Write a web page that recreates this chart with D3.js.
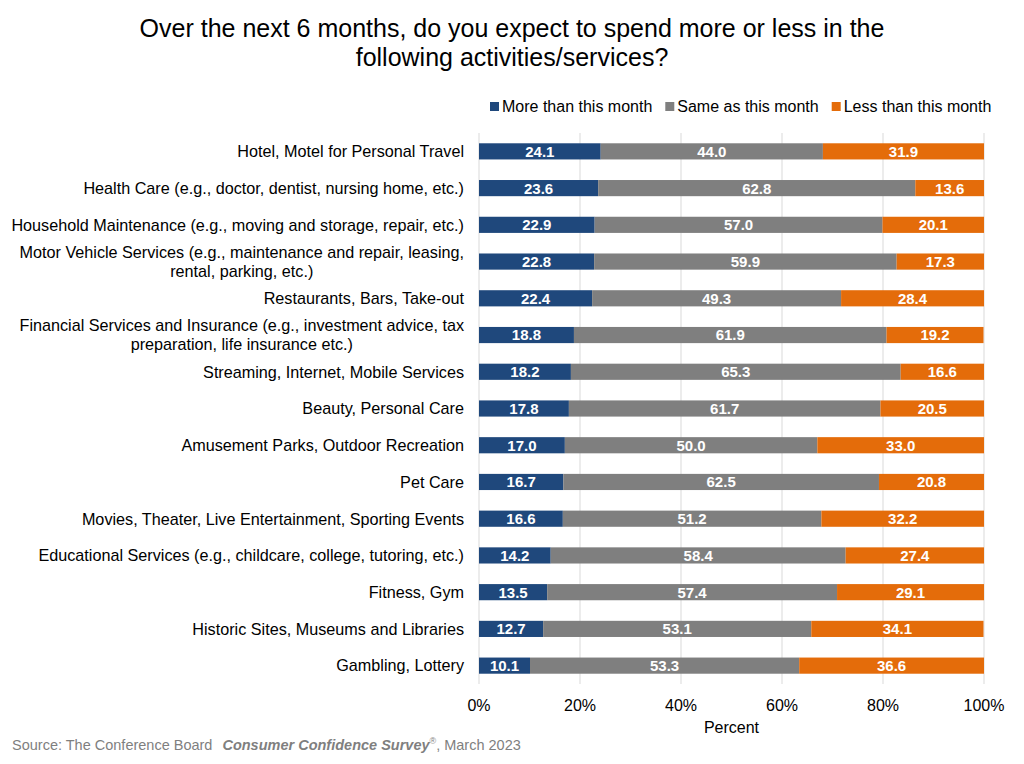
<!DOCTYPE html>
<html lang="en">
<head>
<meta charset="UTF-8">
<title>Spending expectations</title>
<script src="https://cdnjs.cloudflare.com/ajax/libs/d3/7.8.5/d3.min.js"></script>
<style>
    body { margin: 0; background: #fff; }
    svg { display: block; font-family: "Liberation Sans", Arial, sans-serif; }
</style>
</head>
<body>
<svg id="chart" width="1024" height="764"></svg>
<script>
    const categories = [
        "Hotel, Motel for Personal Travel",
        "Health Care (e.g., doctor, dentist, nursing home, etc.)",
        "Household Maintenance (e.g., moving and storage, repair, etc.)",
        "Motor Vehicle Services (e.g., maintenance and repair, leasing,\nrental, parking, etc.)",
        "Restaurants, Bars, Take-out",
        "Financial Services and Insurance (e.g., investment advice, tax\npreparation, life insurance etc.)",
        "Streaming, Internet, Mobile Services",
        "Beauty, Personal Care",
        "Amusement Parks, Outdoor Recreation",
        "Pet Care",
        "Movies, Theater, Live Entertainment, Sporting Events",
        "Educational Services (e.g., childcare, college, tutoring, etc.)",
        "Fitness, Gym",
        "Historic Sites, Museums and Libraries",
        "Gambling, Lottery"
    ];
    const more = [24.1, 23.6, 22.9, 22.8, 22.4, 18.8, 18.2, 17.8, 17.0, 16.7, 16.6, 14.2, 13.5, 12.7, 10.1];
    const same = [44.0, 62.8, 57.0, 59.9, 49.3, 61.9, 65.3, 61.7, 50.0, 62.5, 51.2, 58.4, 57.4, 53.1, 53.3];
    const less = [31.9, 13.6, 20.1, 17.3, 28.4, 19.2, 16.6, 20.5, 33.0, 20.8, 32.2, 27.4, 29.1, 34.1, 36.6];
    const seriesNames = ["More than this month", "Same as this month", "Less than this month"];
    const seriesColors = ["#1f487c", "#7f7f7f", "#e46c0a"];
    const xTicks = [0, 20, 40, 60, 80, 100];

    const svg = d3.select("#chart");
    const plotLeft = 479, plotRight = 984, plotTop = 133, plotBottom = 684;

    const x = d3.scaleLinear().domain([0, 100]).range([plotLeft, plotRight]);
    const y = d3.scaleBand().domain(categories).range([plotTop, plotBottom])
        .paddingInner(0.56).paddingOuter(0.28);

    // title
    const title = svg.append("text")
        .attr("text-anchor", "middle")
        .attr("font-size", 25)
        .attr("fill", "#000");
    title.append("tspan").attr("x", 512).attr("y", 37)
        .text("Over the next 6 months, do you expect to spend more or less in the");
    title.append("tspan").attr("x", 512).attr("y", 66)
        .text("following activities/services?");

    // gridlines
    svg.append("g").selectAll("line")
        .data(xTicks)
        .enter().append("line")
        .attr("x1", d => x(d)).attr("x2", d => x(d))
        .attr("y1", plotTop).attr("y2", plotBottom)
        .attr("stroke", "#d9d9d9")
        .attr("stroke-width", 1);

    // stacked bars
    const rows = categories.map((c, i) => ({ cat: c, vals: [more[i], same[i], less[i]] }));
    const seg = [];
    rows.forEach(r => {
        let acc = 0;
        r.vals.forEach((v, k) => {
            seg.push({ cat: r.cat, k: k, x0: acc, x1: acc + v, v: v });
            acc += v;
        });
    });

    svg.append("g").selectAll("rect")
        .data(seg)
        .enter().append("rect")
        .attr("x", d => x(d.x0))
        .attr("y", d => y(d.cat))
        .attr("width", d => x(Math.min(d.x1, 100)) - x(d.x0))
        .attr("height", y.bandwidth())
        .attr("fill", d => seriesColors[d.k]);

    svg.append("g").selectAll("text")
        .data(seg)
        .enter().append("text")
        .attr("x", d => (x(d.x0) + x(Math.min(d.x1, 100))) / 2)
        .attr("y", d => y(d.cat) + y.bandwidth() / 2)
        .attr("dy", "0.36em")
        .attr("text-anchor", "middle")
        .attr("font-size", 15)
        .attr("font-weight", "bold")
        .attr("fill", "#fff")
        .text(d => d.v.toFixed(1));

    // category labels, multi-line labels centred within their block
    const labelRight = 464, lineH = 19;
    const labels = svg.append("g").attr("font-size", 16.2).attr("fill", "#000");
    categories.forEach(c => {
        const lines = c.split("\n");
        const cy = y(c) + y.bandwidth() / 2;
        const t = labels.append("text").attr("text-anchor", "end");
        const spans = lines.map((ln, j) => t.append("tspan")
            .attr("x", labelRight)
            .attr("y", cy + (j - (lines.length - 1) / 2) * lineH)
            .attr("dy", "0.36em")
            .text(ln));
        if (lines.length > 1) {
            const widths = spans.map(s => s.node().getComputedTextLength());
            const w = d3.max(widths);
            t.attr("text-anchor", "middle");
            spans.forEach(s => s.attr("x", labelRight - w / 2));
        }
    });

    // x axis tick labels
    svg.append("g").selectAll("text")
        .data(xTicks)
        .enter().append("text")
        .attr("x", d => x(d))
        .attr("y", 711)
        .attr("text-anchor", "middle")
        .attr("font-size", 16)
        .attr("fill", "#000")
        .text(d => d + "%");

    svg.append("text")
        .attr("x", (plotLeft + plotRight) / 2)
        .attr("y", 733)
        .attr("text-anchor", "middle")
        .attr("font-size", 16)
        .attr("fill", "#000")
        .text("Percent");

    // legend
    const legend = svg.append("g").attr("font-size", 16);
    let lx = 490;
    seriesNames.forEach((name, k) => {
        legend.append("rect")
            .attr("x", lx).attr("y", 102)
            .attr("width", 9).attr("height", 9)
            .attr("fill", seriesColors[k]);
        const t = legend.append("text")
            .attr("x", lx + 12).attr("y", 106)
            .attr("dy", "0.36em")
            .attr("fill", "#000")
            .text(name);
        lx += 12 + t.node().getComputedTextLength() + 13;
    });

    // source
    const src = svg.append("text")
        .attr("x", 12).attr("y", 750)
        .attr("font-size", 14.5)
        .attr("fill", "#7f7f7f");
    src.append("tspan").text("Source: The Conference Board");
    src.append("tspan").attr("dx", 10).attr("font-weight", "bold").attr("font-style", "italic")
        .text("Consumer Confidence Survey");
    src.append("tspan").attr("font-size", 9).attr("dy", -6).text("®");
    src.append("tspan").attr("dy", 6).text(", March 2023");
</script>
</body>
</html>
